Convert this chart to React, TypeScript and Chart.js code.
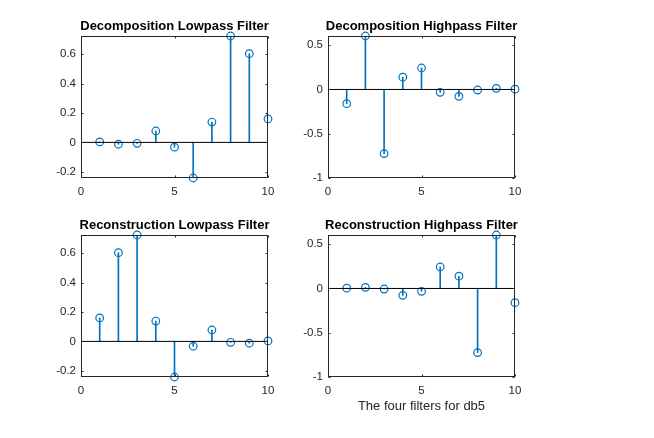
import React, { useEffect, useRef } from "react";
import { Chart, registerables } from "chart.js";

Chart.register(...registerables);

// ---- data (db5 wavelet filters) ----
const sampleIndex = [1, 2, 3, 4, 5, 6, 7, 8, 9, 10];
const lowpassDecomposition = [0.003335725285002, -0.012580751999016, -0.006241490213012, 0.077571493840065, -0.03224486958503, -0.24229488706619, 0.138428145901103, 0.724308528438574, 0.603829269797473, 0.160102397974125];
const highpassDecomposition = [-0.160102397974125, 0.603829269797473, -0.724308528438574, 0.138428145901103, 0.24229488706619, -0.03224486958503, -0.077571493840065, -0.006241490213012, 0.012580751999016, 0.003335725285002];
const lowpassReconstruction = [0.160102397974125, 0.603829269797473, 0.724308528438574, 0.138428145901103, -0.24229488706619, -0.03224486958503, 0.077571493840065, -0.006241490213012, -0.012580751999016, 0.003335725285002];
const highpassReconstruction = [0.003335725285002, 0.012580751999016, -0.006241490213012, -0.077571493840065, -0.03224486958503, 0.24229488706619, 0.138428145901103, -0.724308528438574, 0.603829269797473, -0.160102397974125];

const panelTitles = [
  "Decomposition Lowpass Filter",
  "Decomposition Highpass Filter",
  "Reconstruction Lowpass Filter",
  "Reconstruction Highpass Filter",
];
const xTickValues = [0, 5, 10];
const xLimits = [0, 10];
const lowpassYTicks = [-0.2, 0, 0.2, 0.4, 0.6];
const highpassYTicks = [-1, -0.5, 0, 0.5];
const xAxisLabel = "The four filters for db5";

// ---- styles ----
const BLUE = "#0072BD";
const AXIS_COLOR = "#262626";
const FONT = "'Liberation Sans', Arial, Helvetica, sans-serif";

const PAD_LEFT = 50; // canvas space left of the axes
const PAD_TOP = 30;
const PAD_RIGHT = 20;
const PAD_BOTTOM = 45;

const framePlugin = {
  id: "frame",
  afterDatasetsDraw(chart: any, _args: any, opts: any) {
    const { ctx, chartArea } = chart;
    const l = Math.round(chartArea.left) + 0.5;
    const t = Math.round(chartArea.top) + 0.5;
    const r = Math.round(chartArea.right) - 0.5;
    const b = Math.round(chartArea.bottom) - 0.5;
    ctx.save();
    ctx.strokeStyle = AXIS_COLOR;
    ctx.lineWidth = 1;
    ctx.strokeRect(l, t, r - l, b - t);
    const tl = 2;
    ctx.beginPath();
    chart.scales.x.ticks.forEach((tk: any) => {
      const px = Math.round(chart.scales.x.getPixelForValue(tk.value)) + 0.5;
      ctx.moveTo(px, b);
      ctx.lineTo(px, b - tl);
      ctx.moveTo(px, t);
      ctx.lineTo(px, t + tl);
    });
    chart.scales.y.ticks.forEach((tk: any) => {
      const py = Math.round(chart.scales.y.getPixelForValue(tk.value)) + 0.5;
      ctx.moveTo(l, py);
      ctx.lineTo(l + tl, py);
      ctx.moveTo(r, py);
      ctx.lineTo(r - tl, py);
    });
    ctx.stroke();
    if (opts && opts.title) {
      ctx.fillStyle = "#000";
      ctx.font = `bold 13px ${FONT}`;
      ctx.textAlign = "center";
      ctx.textBaseline = "alphabetic";
      ctx.fillText(opts.title, (chartArea.left + chartArea.right) / 2, chartArea.top - 6);
    }
    ctx.restore();
  },
};

type PanelProps = {
  values: number[];
  title: string;
  yTicks: number[];
  yMin: number;
  yMax: number;
  left: number;
  top: number;
  width: number;
  height: number;
  xLabel?: string;
};

function StemPanel({ values, title, yTicks, yMin, yMax, left, top, width, height, xLabel }: PanelProps) {
  const ref = useRef<HTMLCanvasElement>(null);
  const cw = width + PAD_LEFT + PAD_RIGHT;
  const ch = height + PAD_TOP + PAD_BOTTOM;

  useEffect(() => {
    const points = sampleIndex.map((x, i) => ({ x, y: values[i] }));
    const tickFont = { family: FONT, size: 11.5 };
    const chart = new Chart(ref.current as HTMLCanvasElement, {
      type: "line",
      data: {
        datasets: [
          {
            type: "line",
            data: [
              { x: xLimits[0], y: 0 },
              { x: xLimits[1], y: 0 },
            ],
            borderColor: "#000",
            borderWidth: 1,
            pointRadius: 0,
            order: 0,
          } as any,
          {
            type: "line",
            data: points,
            showLine: false,
            pointRadius: 3.8,
            pointBorderWidth: 1.2,
            pointBorderColor: BLUE,
            pointBackgroundColor: "rgba(0,0,0,0)",
            clip: false,
            order: 1,
          } as any,
          {
            type: "bar",
            data: points,
            backgroundColor: BLUE,
            borderWidth: 0,
            barThickness: 1,
            grouped: false,
            order: 2,
          } as any,
        ],
      },
      options: {
        animation: false,
        responsive: false,
        devicePixelRatio: 1,
        events: [],
        layout: { padding: { left: 0, top: PAD_TOP, right: PAD_RIGHT, bottom: 0 } },
        plugins: {
          legend: { display: false },
          tooltip: { enabled: false },
          title: { display: false },
          frame: { title },
        } as any,
        scales: {
          x: {
            type: "linear",
            min: xLimits[0],
            max: xLimits[1],
            offset: false,
            grid: { display: false, drawTicks: false },
            border: { display: false },
            afterBuildTicks: (s: any) => {
              s.ticks = xTickValues.map((v) => ({ value: v }));
            },
            afterFit: (s: any) => {
              s.height = PAD_BOTTOM;
            },
            ticks: {
              padding: 7,
              color: AXIS_COLOR,
              font: tickFont,
              maxRotation: 0,
              autoSkip: false,
              callback: (v: any) => String(v),
            },
            title: xLabel
              ? {
                  display: true,
                  text: xLabel,
                  color: AXIS_COLOR,
                  font: { family: FONT, size: 13 },
                  padding: { top: 0, bottom: 7.5 },
                }
              : { display: false },
          },
          y: {
            type: "linear",
            min: yMin,
            max: yMax,
            grid: { display: false, drawTicks: false },
            border: { display: false },
            afterBuildTicks: (s: any) => {
              s.ticks = yTicks.map((v) => ({ value: v }));
            },
            afterFit: (s: any) => {
              s.width = PAD_LEFT;
            },
            ticks: {
              padding: 5,
              color: AXIS_COLOR,
              font: tickFont,
              autoSkip: false,
              callback: (v: any) => String(v),
            },
          },
        },
      } as any,
      plugins: [framePlugin],
    });
    return () => chart.destroy();
  }, []);

  return (
    <canvas
      ref={ref}
      width={cw}
      height={ch}
      style={{
        position: "absolute",
        left: left - PAD_LEFT,
        top: top - PAD_TOP,
        width: cw,
        height: ch,
      }}
    />
  );
}

const lowLimits = (vals: number[]) => [Math.min(...vals), Math.max(...vals)];
const highLimits = (vals: number[]) => [-1, Math.max(...vals)];

export default function App() {
  const W = 187;
  const H = 142;
  const panels = [
    { values: lowpassDecomposition, ticks: lowpassYTicks, lim: lowLimits(lowpassDecomposition), left: 81, top: 36 },
    { values: highpassDecomposition, ticks: highpassYTicks, lim: highLimits(highpassDecomposition), left: 328, top: 36 },
    { values: lowpassReconstruction, ticks: lowpassYTicks, lim: lowLimits(lowpassReconstruction), left: 81, top: 235 },
    { values: highpassReconstruction, ticks: highpassYTicks, lim: highLimits(highpassReconstruction), left: 328, top: 235 },
  ];
  return (
    <div style={{ position: "absolute", left: 0, top: 0, width: 654, height: 438, background: "#fff", overflow: "hidden" }}>
      {panels.map((p, i) => (
        <StemPanel
          key={i}
          values={p.values}
          title={panelTitles[i]}
          yTicks={p.ticks}
          yMin={p.lim[0]}
          yMax={p.lim[1]}
          left={p.left}
          top={p.top}
          width={W}
          height={H}
          xLabel={i === 3 ? xAxisLabel : undefined}
        />
      ))}
    </div>
  );
}
